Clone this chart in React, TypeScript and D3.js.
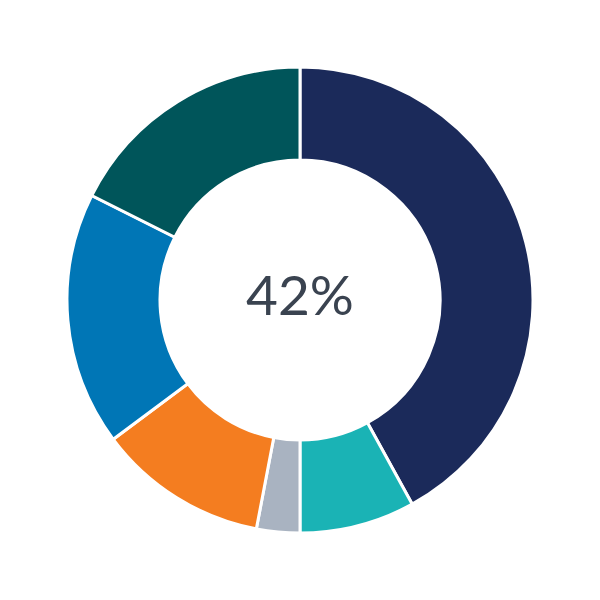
import React from "react";
import * as d3 from "d3";

const categories = ["A", "B", "C", "D", "E", "F"];
const values = [42, 8, 3, 11.8, 17.6, 17.6];
const colors = ["#1b2a5a", "#1ab3b5", "#a9b3c1", "#f47d20", "#0076b6", "#00555a"];
const centerLabel = "42%";

export default function App() {
  const width = 600;
  const height = 600;
  const cx = 300;
  const cy = 300;
  const pie = d3.pie<number>().sort(null).value((d) => d);
  const arcs = pie(values);
  const arc = d3.arc<d3.PieArcDatum<number>>().innerRadius(140).outerRadius(233);
  return (
    <svg width={width} height={height} style={{ position: "absolute", left: 0, top: 0 }}>
      <rect width={width} height={height} fill="#ffffff" />
      <g transform={`translate(${cx},${cy})`}>
        {arcs.map((a, i) => (
          <path key={categories[i]} d={arc(a) || ""} fill={colors[i]} stroke="#ffffff" strokeWidth={3} />
        ))}
        <text
          x={0}
          y={15}
          textAnchor="middle"
          fontFamily="Lato, 'Open Sans', sans-serif"
          fontWeight={400}
          fontSize={55}
          fill="#3a4350"
        >
          {centerLabel}
        </text>
      </g>
    </svg>
  );
}
